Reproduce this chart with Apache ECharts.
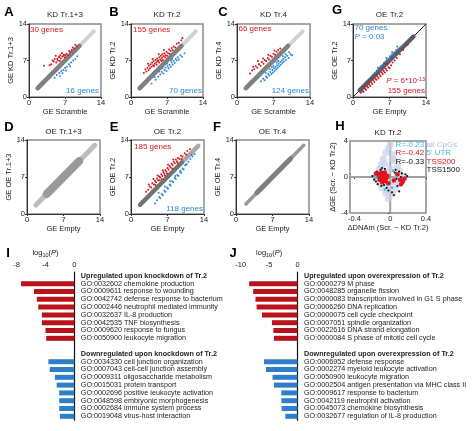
<!DOCTYPE html>
<html>
<head>
<meta charset="utf-8">
<script src="https://cdn.jsdelivr.net/npm/echarts@6/dist/echarts.min.js"></script>
<style>
html, body { margin: 0; padding: 0; background: #fff; }
#chart { width: 474px; height: 431px; }
</style>
</head>
<body>
<div id="chart"></div>
<script>
//--------------------------------
// Data
//--------------------------------
// panel A  KD Tr.1+3
const redA = [[2.9,6.0],[4.3,6.3],[4.8,6.8],[5.0,7.3],[5.3,6.6],[5.6,7.0],[5.8,7.6],[6.0,6.9],[6.2,7.4],[6.5,7.7],[6.8,8.1],[7.0,7.6],[7.3,8.3],[7.6,8.0],[8.0,8.6],[8.3,9.0],[8.8,9.3],[9.3,9.7],[5.2,7.9],[6.1,8.0],[4.6,7.0],[7.8,8.8],[6.4,8.4],[5.5,7.3],[7.1,8.0],[8.5,9.5],[4.0,6.1],[6.7,7.9],[9.0,10.0],[5.9,7.7]];
const blueA = [[5.0,3.7],[5.4,4.2],[5.9,4.6],[6.3,5.0],[6.7,5.2],[7.0,5.6],[7.4,5.8],[7.8,6.3],[8.2,6.6],[8.6,7.0],[9.0,7.3],[6.0,4.0],[7.2,5.1],[8.0,5.9],[9.4,7.8],[6.5,4.6]];
// panel B  KD Tr.2
const redB = [[2.5,4.6],[2.8,5.3],[3.0,4.9],[3.2,5.6],[3.4,5.2],[3.5,6.0],[3.7,5.5],[3.8,6.3],[4.0,5.8],[4.1,6.6],[4.3,6.1],[4.4,6.9],[4.5,5.9],[4.6,6.4],[4.8,7.1],[4.9,6.6],[5.0,6.2],[5.1,7.4],[5.2,6.8],[5.3,7.0],[5.5,7.6],[5.5,6.6],[5.7,7.2],[5.8,7.9],[5.9,6.9],[6.0,7.5],[6.1,8.2],[6.2,7.1],[6.3,7.8],[6.5,8.4],[6.6,7.6],[6.7,8.0],[6.9,8.7],[7.0,7.9],[7.2,8.4],[7.4,9.1],[7.5,8.3],[7.7,8.8],[7.9,9.4],[8.1,9.0],[8.3,9.7],[8.6,9.5],[8.9,10.2],[9.3,10.4],[9.8,10.9],[10.0,11.3],[4.2,7.3],[5.4,8.2],[3.3,6.4],[6.4,9.0]];
const blueB = [[4.0,2.6],[4.8,3.3],[5.3,3.9],[5.7,4.3],[6.0,4.8],[6.3,4.5],[6.5,5.2],[6.7,5.6],[6.9,5.0],[7.1,5.9],[7.3,5.5],[7.5,6.2],[7.7,5.8],[7.9,6.6],[8.1,6.2],[8.3,6.9],[8.5,6.5],[8.7,7.3],[8.9,7.0],[9.1,7.6],[9.3,7.2],[9.6,8.0],[9.9,7.7],[10.4,8.4],[6.1,5.5],[7.0,6.4],[7.8,7.0],[5.5,4.9],[8.0,7.3],[4.6,3.8]];
// panel C  KD Tr.4
const redC = [[2.5,4.5],[2.9,5.1],[3.3,5.3],[3.6,5.9],[3.9,5.6],[4.2,6.3],[4.5,6.0],[4.8,6.7],[5.1,6.4],[5.3,7.1],[5.6,6.9],[5.9,7.5],[6.1,7.2],[6.4,7.9],[6.7,7.7],[7.0,8.3],[7.3,8.1],[7.6,8.7],[7.9,9.0],[8.3,9.3],[4.0,6.9],[5.0,7.4],[6.0,8.1],[3.1,5.8],[7.2,8.9]];
const blueC = [[4.6,3.0],[5.0,3.5],[5.3,3.2],[5.6,4.0],[5.8,3.7],[6.0,4.4],[6.2,4.1],[6.4,4.8],[6.6,4.4],[6.8,5.2],[6.9,4.7],[7.1,5.5],[7.2,5.0],[7.4,5.8],[7.5,5.3],[7.7,6.1],[7.8,5.6],[8.0,6.4],[8.1,5.9],[8.3,6.7],[8.4,6.2],[8.6,7.0],[8.7,6.5],[8.9,7.3],[9.0,6.8],[9.2,7.6],[9.4,7.1],[9.6,7.9],[9.9,7.5],[10.3,8.2],[10.6,8.0],[6.3,5.3],[7.0,6.0],[7.9,6.9],[8.8,7.8],[5.5,4.6],[6.7,5.7],[7.6,6.6],[9.3,8.2],[10.0,8.6]];
// panel G  OE Tr.2 (KD genes)
const redG = [[1.5,0.8],[1.8,1.2],[2.0,1.0],[2.3,1.6],[2.5,1.4],[2.7,2.0],[2.9,1.8],[3.1,2.4],[3.3,2.1],[3.5,2.8],[3.7,2.5],[3.9,3.2],[4.1,2.9],[4.3,3.5],[4.5,3.3],[4.7,3.9],[4.9,3.6],[5.1,4.3],[5.3,4.0],[5.5,4.7],[5.7,4.4],[5.9,5.0],[6.1,4.7],[6.3,5.4],[6.5,5.1],[6.8,5.7],[7.0,5.5],[7.3,6.1],[7.6,6.6],[8.0,7.0],[8.4,7.5],[9.0,8.2],[9.6,9.0],[10.5,10.0],[3.0,2.9],[4.4,4.1],[5.6,5.3],[6.6,6.3],[2.2,2.1],[6.0,6.4]];
const blueG = [[4.2,4.6],[4.6,5.1],[5.0,5.6],[5.3,5.9],[5.6,6.1],[5.9,6.5],[6.2,6.8],[6.5,7.1],[6.8,7.4],[7.1,7.8],[7.4,8.1],[7.7,8.4],[8.0,8.6],[8.3,9.0],[8.7,9.3],[9.1,9.6],[5.1,5.2],[6.0,6.1],[7.0,7.1],[7.9,7.9],[4.8,5.6],[6.4,7.5],[7.5,8.6],[8.5,9.7],[5.5,5.5]];
// panel E  OE Tr.2
const redE = [[2.9,4.2],[3.3,4.6],[3.6,5.2],[3.9,5.0],[4.1,5.8],[4.4,5.6],[4.6,6.3],[4.8,6.0],[5.0,6.7],[5.2,6.4],[5.4,7.1],[5.6,6.9],[5.8,7.5],[6.0,7.2],[6.2,7.9],[6.4,7.6],[6.6,8.3],[6.8,8.0],[7.0,8.7],[7.2,8.4],[7.4,9.1],[7.6,8.8],[7.8,9.5],[8.0,9.2],[8.2,9.9],[8.4,9.6],[8.6,10.3],[8.8,10.0],[9.0,10.6],[9.3,10.4],[9.6,11.0],[9.9,10.9],[10.3,11.5],[10.8,11.9],[11.3,12.3],[5.1,7.3],[6.1,8.3],[7.1,9.3],[8.1,10.3],[4.3,6.6],[3.4,5.6],[5.9,6.6],[6.9,7.6],[7.9,8.6],[8.9,9.7],[4.7,5.5],[9.7,10.4],[10.6,11.2],[5.5,6.4],[6.5,7.3]];
const blueE = [[4.6,2.0],[5.0,2.6],[5.4,3.2],[5.6,3.0],[5.9,3.8],[6.1,3.6],[6.4,4.4],[6.6,4.2],[6.9,5.0],[7.1,4.8],[7.4,5.6],[7.6,5.4],[7.9,6.2],[8.1,6.0],[8.4,6.8],[8.6,6.6],[8.9,7.4],[9.1,7.2],[9.4,8.0],[9.6,7.8],[9.9,8.6],[10.1,8.4],[10.4,9.2],[10.7,9.4],[11.0,9.9],[11.4,10.4],[11.8,10.9],[12.2,11.3],[6.5,5.2],[7.5,6.2],[8.5,7.2],[9.5,8.2],[10.5,9.3],[5.3,4.0],[11.6,11.2]];
// gray clouds (start/end of each band)
const tailKD = [[1.6,1.6],[12.6,12.6]];
const coreKD = [[1.7,1.7],[9.8,9.8]];
const cloudD = [[1.7,1.7],[13.0,13.0]];
const cloudDMid = [[3.8,3.8],[10.0,10.0]];
const cloudE = [[1.8,1.8],[12.9,12.9]];
const cloudF = [[1.9,1.9],[13.0,13.0]];
const cloudFMid = [[4.0,4.0],[10.5,10.5]];
const cloudG = [[1.3,1.3],[11.6,11.6]];
const diagG = [[0,0],[14,14]];
// panel H  dGE vs dDNAm
const hAll = [[-0.02,3.2],[0,3.6],[-0.05,2.7],[0.03,2.5],[-0.08,2.0],[0.05,1.8],[-0.1,1.4],[0.08,1.2],[-0.12,0.9],[0.1,0.7],[-0.14,0.3],[0.12,0.2],[-0.15,-0.2],[0.11,-0.3],[-0.12,-0.7],[0.09,-0.8],[-0.09,-1.2],[0.06,-1.3],[-0.05,-1.8],[0.03,-1.9],[-0.02,-2.4],[0,1.0],[-0.04,0.5],[0.04,-0.5],[0,-1.0],[-0.06,1.5],[0.02,2.0],[-0.03,-1.5],[0.07,0.4],[-0.08,-0.2]];
const hUTR = [[-0.18,0.1],[-0.16,-0.1],[-0.1,0.9],[-0.04,-0.9],[-0.06,-1.4],[0.02,-1.2],[0.05,-0.3],[-0.13,0.5],[0.03,0.7],[-0.08,-0.6]];
const hTSS1500 = [[-0.2,0.1],[-0.18,-0.3],[-0.15,0.6],[-0.14,-0.8],[-0.11,0.8],[-0.1,-1.0],[-0.06,0.9],[-0.04,-1.2],[-0.02,-1.5],[0.02,-1.7],[0.05,0.5],[0.07,-0.2],[0.09,0.2],[0.1,0.6],[0.12,0],[0.13,0.4],[0.15,-0.1],[0.17,0.3],[0.19,0.1],[0.08,-1.0],[0.1,-1.6],[0.04,-2.0],[-0.16,-0.5],[-0.13,0.4],[-0.09,1.0],[0.06,0.8],[0.14,-0.7],[-0.07,-0.9]];
const hTSS200 = [[-0.12,0.3],[-0.1,0.5],[-0.08,0.4],[-0.06,0.5],[-0.11,0],[-0.09,0.1],[-0.07,0],[-0.05,0.2],[-0.04,-0.1],[-0.12,-0.3],[-0.1,-0.2],[-0.08,-0.4],[-0.06,-0.3],[-0.09,-0.6],[-0.05,-0.5],[-0.13,0.1],[-0.07,0.25],[-0.03,0.1],[0.11,-0.3],[0.14,-0.5],[0.16,-0.2],[0.12,-0.8],[0.08,0.3],[-0.02,-0.7],[0.04,-0.4],[-0.16,0.4]];
const hCrossV = [[0,-4],[0,4]];
const hCrossH = [[-0.45,0],[0.4,0]];
const hTicks = [-0.4, 0, 0.4];
// panel I  GO terms, knockdown
const upKDTerms = ['GO:0032602 chemokine production','GO:0009611 response to wounding','GO:0042742 defense response to bacterium','GO:0002446 neutrophil mediated immunity','GO:0032637 IL-8 production','GO:0042535 TNF biosynthesis','GO:0009620 response to fungus','GO:0050900 leukocyte migration'];
const upKDLogP = [-7.4,-5.6,-5.2,-5.0,-4.5,-4.5,-4.0,-3.9];
const downKDTerms = ['GO:0034330 cell junction organization','GO:0007043 cell-cell junction assembly','GO:0009311 oligosaccharide metabolism','GO:0015031 protein transport','GO:0002696 positive leukocyte activation','GO:0048598 embryonic morphogenesis','GO:0002684 immune system process','GO:0019048 virus-host interaction'];
const downKDLogP = [-3.6,-3.4,-2.7,-2.45,-2.1,-2.1,-2.1,-2.0];
// panel J  GO terms, overexpression
const upOETerms = ['GO:0000279 M phase','GO:0048285 organelle fission','GO:0000083 transcription involved in G1 S phase','GO:0006260 DNA replication','GO:0000075 cell cycle checkpoint','GO:0007051 spindle organization','GO:0022616 DNA strand elongation','GO:0000084 S phase of mitotic cell cycle'];
const upOELogP = [-8.5,-7.8,-7.4,-7.2,-6.25,-4.5,-4.25,-4.15];
const downOETerms = ['GO:0006952 defense response','GO:0002274 myeloid leukocyte activation','GO:0050900 leukocyte migration','GO:0002504 antigen presentation via MHC class II','GO:0009617 response to bacterium','GO:0042119 neutrophil activation','GO:0045073 chemokine biosynthesis','GO:0032677 regulation of IL-8 production'];
const downOELogP = [-5.9,-5.55,-4.4,-4.15,-2.85,-2.85,-2.8,-2.15];

//--------------------------------
// Style
//--------------------------------
const FONT = '"Liberation Sans", Arial, sans-serif';
const RED = '#d3161e';
const BLUE = '#2b88d4';
const BAR_RED = '#b8121b';
const BAR_BLUE = '#2f7fc8';
const CYAN = '#3db8ea';
const LAVENDER = '#c9d0ea';
const TXT = '#222';

const grid = [], xAxis = [], yAxis = [], series = [], graphic = [];

function axisCommon() {
    return {
        nameLocation: 'middle',
        nameTextStyle: { fontSize: 7.5, color: TXT, fontFamily: FONT },
        axisLine: { lineStyle: { color: '#333', width: 1 } },
        axisTick: { length: 2, lineStyle: { color: '#333' } },
        axisLabel: { fontSize: 7.5, color: TXT, margin: 2, fontFamily: FONT },
        splitLine: { show: false }
    };
}

function scatterPanel(box, xName, yName) {
    const gi = grid.length;
    grid.push({ left: box[0], top: box[1], width: box[2], height: box[3], show: true, borderColor: '#8c8c8c', borderWidth: 1.5 });
    xAxis.push(Object.assign(axisCommon(), { gridIndex: gi, type: 'value', min: 0, max: 14, interval: 7, name: xName, nameGap: 10 }));
    yAxis.push(Object.assign(axisCommon(), { gridIndex: gi, type: 'value', min: 0, max: 14, interval: 7, name: yName, nameGap: 11 }));
    return gi;
}

function band(gi, pts, color, width) {
    series.push({ type: 'line', xAxisIndex: gi, yAxisIndex: gi, data: pts, symbol: 'none', silent: true,
        lineStyle: { color: color, width: width, cap: 'round' }, z: 1 });
}

function dots(gi, pts, color, size, opacity) {
    series.push({ type: 'scatter', xAxisIndex: gi, yAxisIndex: gi, data: pts, symbolSize: size, silent: true,
        itemStyle: { color: color, opacity: opacity || 1 }, z: 2 });
}

function txt(x, y, text, o) {
    o = o || {};
    graphic.push({ type: 'text', x: x, y: y, z: 100, silent: true, style: {
        text: text, fill: o.color || TXT, fontSize: o.size || 8, fontFamily: FONT,
        fontWeight: o.bold ? 'bold' : 'normal', align: o.align || 'left', verticalAlign: 'middle', rich: o.rich
    } });
}

//--------------------------------
// Scatter panels
//--------------------------------
let g;
g = scatterPanel([29, 24, 72, 73], 'GE Scramble', 'GE KD Tr.1+3');
band(g, tailKD, '#d2d2d2', 4); band(g, coreKD, '#808080', 4.5);
dots(g, blueA, BLUE, 2); dots(g, redA, RED, 2);

g = scatterPanel([131, 24, 72, 73], 'GE Scramble', 'GE KD Tr.2');
band(g, tailKD, '#d2d2d2', 4); band(g, coreKD, '#808080', 4.5);
dots(g, blueB, BLUE, 2); dots(g, redB, RED, 2);

g = scatterPanel([237, 24, 73, 73], 'GE Scramble', 'GE KD Tr.4');
band(g, tailKD, '#d2d2d2', 4); band(g, coreKD, '#808080', 4.5);
dots(g, blueC, BLUE, 2); dots(g, redC, RED, 2);

g = scatterPanel([353, 24, 73, 73], 'GE Empty', 'GE OE Tr.2');
band(g, diagG, '#222', 1);
band(g, cloudG, '#565c66', 4.5);
dots(g, blueG, '#3a7fc0', 2); dots(g, redG, RED, 2);

g = scatterPanel([27, 140, 73, 74], 'GE Empty', 'GE OE Tr.1+3');
band(g, cloudD, '#bdbdbd', 5); band(g, cloudDMid, '#999999', 8);

g = scatterPanel([131, 140, 73, 74], 'GE Empty', 'GE OE Tr.2');
band(g, cloudE, '#a8a8a8', 4.5); band(g, coreKD, '#727272', 4);
dots(g, blueE, BLUE, 2); dots(g, redE, RED, 2);

g = scatterPanel([236, 140, 73, 74], 'GE Empty', 'GE OE Tr.4');
band(g, cloudF, '#9a9a9a', 3.5); band(g, cloudFMid, '#7f7f7f', 5);

//--------------------------------
// Panel H
//--------------------------------
g = grid.length;
grid.push({ left: 350, top: 141, width: 76, height: 72, show: true, borderColor: '#8c8c8c', borderWidth: 1.5 });
xAxis.push(Object.assign(axisCommon(), { gridIndex: g, type: 'value', min: -0.45, max: 0.4,
    name: 'ΔDNAm (Scr. − KD Tr.2)', nameGap: 10,
    axisTick: { length: 2, customValues: hTicks, lineStyle: { color: '#333' } },
    axisLabel: { fontSize: 7.5, color: TXT, margin: 2, fontFamily: FONT, customValues: hTicks } }));
yAxis.push(Object.assign(axisCommon(), { gridIndex: g, type: 'value', min: -4, max: 4, interval: 4,
    name: 'ΔGE (Scr. − KD Tr.2)', nameGap: 9 }));
band(g, hCrossV, '#a0a0a0', 2); band(g, hCrossH, '#a0a0a0', 2);
dots(g, hAll, LAVENDER, 7, 0.7);
dots(g, hUTR, CYAN, 2.5);
dots(g, hTSS1500, '#111', 2.2);
dots(g, hTSS200, '#e0141c', 4.5);

//--------------------------------
// GO bar panels
//--------------------------------
function goPanel(left, width, minVal, interval, upTitle, upTerms, upVals, downTitle, downTerms, downVals) {
    const gi = grid.length;
    const cats = [upTitle].concat(upTerms, [' ', downTitle], downTerms);
    const vals = [null].concat(
        upVals.map(v => ({ value: v, itemStyle: { color: BAR_RED } })),
        [null, null],
        downVals.map(v => ({ value: v, itemStyle: { color: BAR_BLUE } })));
    grid.push({ left: left, top: 272, width: width, height: 148.2 });
    xAxis.push({ gridIndex: gi, type: 'value', position: 'top', min: minVal, max: 0, interval: interval,
        name: '{t|log}{s|10}{t|(}{i|P}{t|)}', nameLocation: 'middle', nameGap: 14,
        nameTextStyle: { rich: {
            t: { fontSize: 7.5, color: TXT, fontFamily: FONT },
            s: { fontSize: 5.5, color: TXT, fontFamily: FONT, verticalAlign: 'bottom', padding: [4, 0, 0, 0] },
            i: { fontSize: 7.5, color: TXT, fontFamily: FONT, fontStyle: 'italic' } } },
        axisLine: { lineStyle: { color: '#111', width: 1.2 } },
        axisTick: { length: 3, lineStyle: { color: '#111' } },
        axisLabel: { fontSize: 7.5, color: TXT, margin: 3, fontFamily: FONT },
        splitLine: { show: false } });
    yAxis.push({ gridIndex: gi, type: 'category', inverse: true, position: 'right', data: cats,
        axisLine: { onZero: false, lineStyle: { color: '#111', width: 1.2 } },
        axisTick: { show: false },
        axisLabel: { interval: 0, margin: 6.5, fontSize: 7.2, color: TXT, fontFamily: FONT, align: 'left',
            formatter: v => v.startsWith('GO:') ? v : '{h|' + v + '}',
            rich: { h: { fontWeight: 'bold', fontSize: 7.2, color: TXT, fontFamily: FONT } } } });
    series.push({ type: 'bar', xAxisIndex: gi, yAxisIndex: gi, data: vals, barWidth: 5, silent: true });
}

goPanel(16.7, 57.6, -8, 4, 'Upregulated upon knockdown of Tr.2', upKDTerms, upKDLogP,
    'Downregulated upon knockdown of Tr.2', downKDTerms, downKDLogP);
goPanel(240.7, 56.8, -10, 5, 'Upregulated upon overexpression of Tr.2', upOETerms, upOELogP,
    'Downregulated upon overexpression of Tr.2', downOETerms, downOELogP);

//--------------------------------
// Letters, titles, annotations
//--------------------------------
[['A', 9, 12], ['B', 114, 12], ['C', 223, 12], ['G', 337, 10], ['D', 9, 127], ['E', 114, 127],
 ['F', 217, 127], ['H', 340, 126], ['I', 8, 253], ['J', 233, 253]].forEach(l => txt(l[1], l[2], l[0], { size: 13, bold: true, align: 'center', color: '#000' }));

[['KD Tr.1+3', 65, 15], ['KD Tr.2', 167, 15], ['KD Tr.4', 273.5, 15], ['OE Tr.2', 389.5, 15],
 ['OE Tr.1+3', 63.5, 132], ['OE Tr.2', 167.5, 132], ['OE Tr.4', 272.5, 132], ['KD Tr.2', 388, 133]].forEach(t => txt(t[1], t[2], t[0], { align: 'center' }));

txt(30, 30, '30 genes', { color: RED });
txt(99, 91, '16 genes', { color: BLUE, align: 'right' });
txt(133, 29.5, '155 genes', { color: RED });
txt(202, 91, '70 genes', { color: BLUE, align: 'right' });
txt(238.5, 29, '66 genes', { color: RED });
txt(309, 91, '124 genes', { color: BLUE, align: 'right' });
txt(354.5, 28, '70 genes', { color: BLUE });
txt(354.5, 37, '{i|P} = 0.03', { color: BLUE, rich: { i: { fontStyle: 'italic', fontSize: 8, fill: BLUE, fontFamily: FONT } } });
txt(425, 81, '{i|P} = 6*10{s|-13}', { color: RED, align: 'right', rich: {
    i: { fontStyle: 'italic', fontSize: 8, fill: RED, fontFamily: FONT },
    s: { fontSize: 5.5, fill: RED, fontFamily: FONT, padding: [0, 0, 4, 0] } } });
txt(425, 91, '155 genes', { color: RED, align: 'right' });
txt(134, 147, '185 genes', { color: RED });
txt(203, 208.5, '118 genes', { color: BLUE, align: 'right' });

txt(395.5, 144.5, 'R=-0.23', { color: CYAN });
txt(395.5, 153, 'R=-0.42', { color: RED });
txt(395.5, 161.5, 'R=-0.33', { color: '#111' });
txt(426.5, 144.5, 'all CpGs', { color: '#b3bde2' });
txt(426.5, 153, '5\' UTR', { color: CYAN });
txt(426.5, 161.5, 'TSS200', { color: RED });
txt(426.5, 170, 'TSS1500', { color: '#111' });

//--------------------------------
// Render
//--------------------------------
const myChart = echarts.init(document.getElementById('chart'));
myChart.setOption({
    animation: false,
    textStyle: { fontFamily: FONT },
    grid: grid,
    xAxis: xAxis,
    yAxis: yAxis,
    series: series,
    graphic: graphic
});
</script>
</body>
</html>
